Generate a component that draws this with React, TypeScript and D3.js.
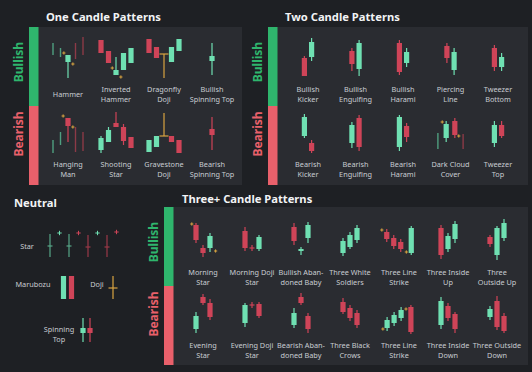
import React from "react";
import * as d3 from "d3";

// candle: [slot, open, high, low, close, kind]
// kind: undefined = normal candle, "lu"/"ld" = faded trend line, "dj" = gold doji,
//       "du"/"dd" = small doji cross, "su"/"sd" = star doji
type Candle = [number, number, number, number, number, string?];
type Mark = [number, number, string?];
type Pattern = { label: string[]; candles: Candle[]; marks?: Mark[] };

const GREEN = "#6fe0b2";
const RED = "#cf4458";
const GOLD = "#d9a441";
const SIDE_GREEN = "#2fb56d";
const SIDE_RED = "#e9606b";

const oneBullish: Pattern[] = [
  { label: ["Hammer"], candles: [[0, 0, 37, 25, 0, "lu"], [1, 0, 32, 23, 0, "lu"], [2, 18, 25, 2, 25], [3, 0, 37, 21, 0, "ld"], [4, 0, 43, 25, 0, "ld"]], marks: [[1.45, 27], [2.65, 16]] },
  { label: ["Inverted", "Hammer"], candles: [[0, 40, 40, 27, 27], [1, 29, 29, 17, 17], [2, 5, 23, 5, 10], [3, 10, 27, 10, 27], [4, 17, 32, 17, 32]], marks: [[1.5, 12], [2.65, 3]] },
  { label: ["Dragonfly", "Doji"], candles: [[0, 41, 41, 27, 27], [1, 33, 33, 22, 22], [2, 26, 26, 2, 26, "dj"], [3, 18, 33, 18, 33], [4, 29, 41, 29, 41]] },
  { label: ["Bullish", "Spinning Top"], candles: [[0, 19, 37, 5, 24]] },
];

const oneBearish: Pattern[] = [
  { label: ["Hanging", "Man"], candles: [[0, 0, 15, 2, 0, "lu"], [1, 0, 23, 10, 0, "lu"], [2, 37, 37, 13, 29], [3, 0, 28, 3, 0, "ld"], [4, 0, 23, 4, 0, "ld"]], marks: [[1.35, 39], [2.65, 28]] },
  { label: ["Shooting", "Star"], candles: [[0, 5, 19, 2, 17], [1, 13, 28, 13, 25], [2, 32, 43, 28, 28], [3, 28, 31, 10, 14], [4, 18, 18, 7, 7]] },
  { label: ["Gravestone", "Doji"], candles: [[0, 3, 3, 3, 15], [1, 8, 19, 8, 19], [2, 19, 42, 19, 19, "dj"], [3, 19, 19, 13, 13], [4, 15, 15, 2, 2]] },
  { label: ["Bearish", "Spinning Top"], candles: [[0, 26, 38, 5, 20]] },
];

const twoBullish: Pattern[] = [
  { label: ["Bullish", "Kicker"], candles: [[0, 22, 24, 4, 4], [1, 23, 42, 19, 38]] },
  { label: ["Bullish", "Engulfing"], candles: [[0, 29, 32, 9, 16], [1, 11, 40, 4, 37]] },
  { label: ["Bullish", "Harami"], candles: [[0, 37, 40, 5, 8], [1, 17, 32, 13, 28]] },
  { label: ["Piercing", "Line"], candles: [[0, 34, 37, 17, 22], [1, 10, 32, 5, 28]] },
  { label: ["Tweezer", "Bottom"], candles: [[0, 32, 35, 9, 13], [1, 13, 27, 9, 23]] },
];

const twoBearish: Pattern[] = [
  { label: ["Bearish", "Kicker"], candles: [[0, 19, 41, 17, 38], [1, 12, 15, 2, 4]] },
  { label: ["Bearish", "Engulfing"], candles: [[0, 12, 33, 7, 30], [1, 37, 40, 4, 8]] },
  { label: ["Bearish", "Harami"], candles: [[0, 8, 40, 4, 38], [1, 29, 32, 13, 18]] },
  { label: ["Dark Cloud", "Cover"], candles: [[-0.5, 0, 22, 6, 0, "lu"], [0.65, 17, 34, 13, 31], [1.85, 34, 37, 17, 20], [3, 0, 21, 6, 0, "ld"]], marks: [[0.1, 33], [2.4, 19]] },
  { label: ["Tweezer", "Top"], candles: [[0, 12, 34, 8, 30], [1, 30, 34, 17, 19]] },
];

const threeBullish: Pattern[] = [
  { label: ["Morning", "Star"], candles: [[0, 35, 37, 17, 20], [1, 12, 15, 3, 7], [2, 12, 27, 8, 24]], marks: [[-0.6, 36], [2.8, 9]] },
  { label: ["Morning Doji", "Star"], candles: [[0, 29, 33, 9, 12], [1, 12, 15, 9, 12, "dd"], [2, 11, 25, 9, 23]] },
  { label: ["Bullish Aban-", "doned Baby"], candles: [[0, 33, 37, 15, 19], [1, 9, 13, 5, 11], [2, 22, 38, 17, 35]] },
  { label: ["Three White", "Soldiers"], candles: [[0, 7, 22, 4, 19], [1, 13, 28, 11, 25], [2, 20, 35, 17, 32]] },
  { label: ["Three Line", "Strike"], candles: [[0, 28, 31, 18, 21], [1, 22, 25, 11, 14], [2, 18, 21, 8, 11], [3.5, 7, 34, 5, 32]], marks: [[-0.7, 30], [2.8, 8]] },
  { label: ["Three Inside", "Up"], candles: [[0, 32, 35, 1, 5], [1, 11, 27, 8, 24], [2, 21, 39, 17, 36]] },
  { label: ["Three", "Outside Up"], candles: [[0, 23, 25, 13, 16], [1, 5, 34, 0, 32], [2, 22, 41, 19, 37]] },
];

const threeBearish: Pattern[] = [
  { label: ["Evening", "Star"], candles: [[0, 6, 23, 2, 19], [1, 38, 41, 30, 32], [2, 32, 36, 15, 18]] },
  { label: ["Evening Doji", "Star"], candles: [[0, 12, 32, 8, 30], [1, 30, 33, 27, 30, "dd"], [2, 31, 33, 17, 19]] },
  { label: ["Bearish Aban-", "doned Baby"], candles: [[0, 10, 27, 7, 22], [1, 38, 42, 30, 32], [2, 19, 22, 2, 6]] },
  { label: ["Three Black", "Crows"], candles: [[0, 33, 37, 21, 23], [1, 27, 30, 14, 17], [2, 22, 25, 7, 10]] },
  { label: ["Three Line", "Strike"], candles: [[0, 7, 18, 4, 15], [1, 12, 23, 9, 20], [2, 17, 28, 14, 25], [3.4, 28, 30, 1, 3]], marks: [[-0.6, 6], [2.7, 26]] },
  { label: ["Three Inside", "Down"], candles: [[0, 10, 38, 6, 34], [1, 29, 32, 14, 17], [2, 21, 23, 2, 6]] },
  { label: ["Three Outside", "Down"], candles: [[0, 18, 29, 15, 26], [1, 34, 39, 5, 8], [2, 19, 22, 2, 4]] },
];

const neutralStar: Candle[] = [[0, 12, 24, 1, 12, "su"], [2, 12, 24, 1, 12, "su"], [4, 11, 23, 1, 11, "sd"], [6, 11, 23, 1, 11, "sd"]];
const neutralStarMarks: Mark[] = [[1, 25, GREEN], [3, 25, RED], [5, 25, GREEN], [7, 26, RED]];
const neutralMarubozu: Candle[] = [[0, 1, 24, 1, 24], [1, 24, 24, 1, 1]];
const neutralDoji: Candle[] = [[0, 12, 24, 1, 12, "dj"]];
const neutralSpinning: Candle[] = [[0, 10, 25, 1, 15], [1, 15, 25, 1, 10]];

const yDomain = [0, 42];

function CandleShape({ c, x, y }: { c: Candle; x: (s: number) => number; y: d3.ScaleLinear<number, number> }) {
  const [slot, o, h, l, cl, kind] = c;
  const cx = x(slot);
  if (kind === "lu" || kind === "ld") {
    return <line x1={cx} x2={cx} y1={y(h)} y2={y(l)} stroke={kind === "lu" ? "#4f9f80" : "#8c3a47"} strokeWidth={1.4} />;
  }
  if (kind === "dj") {
    return (
      <g stroke={GOLD} strokeWidth={1.2}>
        <line x1={cx} x2={cx} y1={y(h)} y2={y(l)} />
        <line x1={cx - 4.5} x2={cx + 4.5} y1={y(o)} y2={y(o)} />
      </g>
    );
  }
  if (kind === "du" || kind === "dd" || kind === "su" || kind === "sd") {
    const col = kind === "du" || kind === "su" ? GREEN : RED;
    const star = kind === "su" || kind === "sd";
    return (
      <g stroke={col} strokeWidth={1.2} opacity={star ? 0.7 : 1}>
        <line x1={cx} x2={cx} y1={y(h)} y2={y(l)} />
        <line x1={cx - 2.5} x2={cx + 2.5} y1={y(o)} y2={y(o)} />
      </g>
    );
  }
  const col = cl >= o ? GREEN : RED;
  const top = y(Math.max(o, cl));
  const bot = y(Math.min(o, cl));
  return (
    <g>
      <line x1={cx} x2={cx} y1={y(h)} y2={y(l)} stroke={col} strokeWidth={1.2} />
      <rect x={cx - 2.6} y={top} width={5.2} height={Math.max(1.2, bot - top)} fill={col} />
    </g>
  );
}

function MarkShape({ m, x, y, size = 1.6 }: { m: Mark; x: (s: number) => number; y: d3.ScaleLinear<number, number>; size?: number }) {
  const cx = x(m[0]);
  const cy = y(m[1]);
  return (
    <g stroke={m[2] || GOLD} strokeWidth={1}>
      <line x1={cx - size} x2={cx + size} y1={cy} y2={cy} />
      <line x1={cx} x2={cx} y1={cy - size} y2={cy + size} />
    </g>
  );
}

function slotScale(candles: Candle[], center: number, step: number) {
  const ext = d3.extent(candles, (d) => d[0]) as [number, number];
  const mid = (ext[0] + ext[1]) / 2;
  const s = d3.scaleLinear().domain([mid, mid + 1]).range([center, center + step]);
  return (v: number) => s(v);
}

function Label({ lines, x, y, lh = 10 }: { lines: string[]; x: number; y: number; lh?: number }) {
  const y0 = y - ((lines.length - 1) * lh) / 2;
  return (
    <text x={x} textAnchor="middle" fontSize={7.3} fill="#c9ccd1" fontFamily="'Noto Sans', sans-serif">
      {lines.map((t, i) => (
        <tspan key={i} x={x} y={y0 + i * lh + 2.7}>
          {t}
        </tspan>
      ))}
    </text>
  );
}

function Row({ patterns, cols, base, labelY, step }: { patterns: Pattern[]; cols: [number, number]; base: number; labelY: number; step: number }) {
  const xCol = d3.scalePoint<string>().domain(patterns.map((p) => p.label.join(" "))).range(cols);
  const y = d3.scaleLinear().domain(yDomain).range([base, base - 42]);
  return (
    <g>
      {patterns.map((p) => {
        const cx = xCol(p.label.join(" "))!;
        const xs = slotScale(p.candles, cx, step);
        return (
          <g key={p.label.join(" ")}>
            {p.candles.map((c, i) => (
              <CandleShape key={i} c={c} x={xs} y={y} />
            ))}
            {(p.marks || []).map((m, i) => (
              <MarkShape key={"m" + i} m={m} x={xs} y={y} />
            ))}
            <Label lines={p.label} x={cx} y={labelY} />
          </g>
        );
      })}
    </g>
  );
}

function Panel({ x, y, w, h, title, titleX, titleY, bull, bear, cols, step, bullBase, bearBase, bullLabel, bearLabel }: any) {
  const half = h / 2;
  const side = (label: string, top: number, col: string, off: number) => (
    <g>
      <rect x={x} y={top} width={9.5} height={half} fill={col} />
      <text
        transform={`translate(${x - 11}, ${top + off}) rotate(-90)`}
        textAnchor="middle"
        dominantBaseline="central"
        fontSize={12}
        fontWeight={700}
        fill={col}
        fontFamily="'Noto Sans', sans-serif"
      >
        {label}
      </text>
    </g>
  );
  return (
    <g>
      <rect x={x} y={y} width={w} height={h} fill="#2a2c31" />
      {side("Bullish", y, SIDE_GREEN, 35)}
      {side("Bearish", y + half, SIDE_RED, 28)}
      <text x={titleX} y={titleY} fontSize={11.2} fontWeight={700} fill="#f2f3f5" fontFamily="'Noto Sans', sans-serif">
        {title}
      </text>
      <Row patterns={bull} cols={cols} base={bullBase} labelY={bullLabel} step={step} />
      <Row patterns={bear} cols={cols} base={bearBase} labelY={bearLabel} step={step} />
    </g>
  );
}

function Neutral() {
  const yStar = d3.scaleLinear().domain(yDomain).range([258, 216]);
  const xStar = d3.scaleLinear().domain([0, 1]).range([50, 59.5]);
  const yMaru = d3.scaleLinear().domain(yDomain).range([300, 258]);
  const xMaru = d3.scaleLinear().domain([0, 1]).range([63.5, 71.5]);
  const xDoji = d3.scaleLinear().domain([0, 1]).range([113, 121]);
  const ySpin = d3.scaleLinear().domain(yDomain).range([343, 301]);
  const xSpin = d3.scaleLinear().domain([0, 1]).range([83, 90]);
  return (
    <g>
      <text x={14} y={207} fontSize={11.2} fontWeight={700} fill="#f2f3f5" fontFamily="'Noto Sans', sans-serif">
        Neutral
      </text>
      {neutralStar.map((c, i) => (
        <CandleShape key={"s" + i} c={c} x={xStar} y={yStar} />
      ))}
      {neutralStarMarks.map((m, i) => (
        <MarkShape key={"sm" + i} m={m} x={xStar} y={yStar} size={2.2} />
      ))}
      <Label lines={["Star"]} x={27} y={246} />
      {neutralMarubozu.map((c, i) => (
        <CandleShape key={"mb" + i} c={c} x={xMaru} y={yMaru} />
      ))}
      <Label lines={["Marubozu"]} x={33} y={284} />
      {neutralDoji.map((c, i) => (
        <CandleShape key={"dj" + i} c={c} x={xDoji} y={yMaru} />
      ))}
      <Label lines={["Doji"]} x={97} y={284} />
      {neutralSpinning.map((c, i) => (
        <CandleShape key={"sp" + i} c={c} x={xSpin} y={ySpin} />
      ))}
      <Label lines={["Spinning", "Top"]} x={59} y={334} />
    </g>
  );
}

const App = () => {
  const width = 532;
  const height = 372;
  return (
    <svg width={width} height={height} style={{ position: "fixed", left: 0, top: 0, background: "#1e2024" }}>
      <rect width={width} height={height} fill="#1e2024" />
      <Panel x={29} y={27} w={213} h={158} title="One Candle Patterns" titleX={46} titleY={21}
        bull={oneBullish} bear={oneBearish} cols={[68, 212]} step={7.5}
        bullBase={80} bearBase={155} bullLabel={94} bearLabel={169} />
      <Panel x={268} y={27} w={260} h={158} title="Two Candle Patterns" titleX={285} titleY={21}
        bull={twoBullish} bear={twoBearish} cols={[308, 498]} step={7.2}
        bullBase={80} bearBase={155} bullLabel={94} bearLabel={169} />
      <Panel x={164} y={207} w={364} h={158} title="Three+ Candle Patterns" titleX={182} titleY={203}
        bull={threeBullish} bear={threeBearish} cols={[203, 497]} step={7}
        bullBase={260} bearBase={335} bullLabel={277} bearLabel={350.5} />
      <Neutral />
    </svg>
  );
};

export default App;
